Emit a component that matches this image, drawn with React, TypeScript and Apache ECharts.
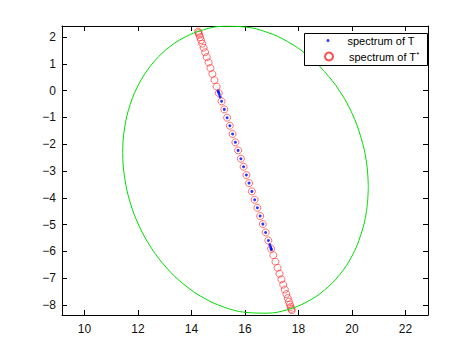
import { useEffect, useRef } from 'react';
import * as echarts from 'echarts';

const xTicks = [10, 12, 14, 16, 18, 20, 22];
const yTicks = [-8, -7, -6, -5, -4, -3, -2, -1, 0, 1, 2];
const xRange = [9.16, 22.84];
const yRange = [-8.37, 2.41];

// spectrum of T (blue dots)
const tX = [14.997, 15.014, 15.038, 15.072, 15.125, 15.226, 15.331, 15.432, 15.536, 15.641, 15.742, 15.846, 15.947, 16.051, 16.152, 16.257, 16.361, 16.462, 16.566, 16.667, 16.772, 16.873, 16.927, 16.957, 16.977, 16.987];
const tY = [-0.02, -0.07, -0.14, -0.24, -0.40, -0.70, -1.01, -1.31, -1.62, -1.93, -2.23, -2.54, -2.84, -3.15, -3.45, -3.76, -4.07, -4.37, -4.68, -4.98, -5.29, -5.59, -5.75, -5.84, -5.90, -5.93];

// spectrum of T* (red circles)
const sX = [14.250, 14.267, 14.290, 14.321, 14.358, 14.402, 14.452, 14.509, 14.570, 14.637, 14.708, 14.782, 14.859, 14.940, 15.021, 15.125, 15.226, 15.331, 15.432, 15.536, 15.641, 15.742, 15.846, 15.947, 16.051, 16.152, 16.257, 16.361, 16.462, 16.566, 16.667, 16.772, 16.873, 16.977, 17.058, 17.139, 17.216, 17.290, 17.361, 17.428, 17.489, 17.546, 17.597, 17.640, 17.678, 17.708, 17.731, 17.748];
const sY = [2.20, 2.15, 2.08, 1.99, 1.88, 1.75, 1.60, 1.43, 1.25, 1.05, 0.84, 0.62, 0.39, 0.15, -0.09, -0.40, -0.70, -1.01, -1.31, -1.62, -1.93, -2.23, -2.54, -2.84, -3.15, -3.45, -3.76, -4.07, -4.37, -4.68, -4.98, -5.29, -5.59, -5.90, -6.14, -6.38, -6.61, -6.83, -7.04, -7.24, -7.42, -7.59, -7.74, -7.87, -7.98, -8.07, -8.14, -8.19];

// green boundary curve
const eX = [20.61, 20.54, 20.33, 20.00, 19.54, 18.97, 18.315, 17.59, 16.817, 16.02, 15.223, 14.45, 13.725, 13.07, 12.504, 12.045, 11.707, 11.50, 11.43, 11.50, 11.707, 12.045, 12.504, 13.07, 13.725, 14.45, 15.223, 16.02, 16.817, 17.59, 18.315, 18.97, 19.54, 20.00, 20.33, 20.54, 20.61];
const eY = [-3.594, -4.508, -5.375, -6.168, -6.864, -7.44, -7.88, -8.171, -8.302, -8.271, -8.079, -7.73, -7.236, -6.612, -5.877, -5.053, -4.165, -3.24, -2.306, -1.392, -0.525, 0.268, 0.964, 1.54, 1.98, 2.271, 2.402, 2.371, 2.179, 1.83, 1.336, 0.712, -0.023, -0.847, -1.735, -2.66, -3.594];

const FONT = '"Liberation Sans", Arial, Helvetica, sans-serif';
const minus = (v: number) => String(v).replace('-', '\u2212');

export default function App() {
  const ref = useRef<HTMLDivElement>(null);
  useEffect(() => {
    if (!ref.current) return;
    const chart = echarts.init(ref.current, null, { renderer: 'svg' });
    const axisCommon = {
      axisLine: { show: true, onZero: false, lineStyle: { color: '#000', width: 1 } },
      splitLine: { show: false },
    };
    const xBase = (pos: 'bottom' | 'top', labels: boolean) => ({
      type: 'value',
      position: pos,
      min: xRange[0],
      max: xRange[1],
      ...axisCommon,
      axisTick: { show: true, inside: true, length: 5, lineStyle: { color: '#000' }, customValues: xTicks },
      axisLabel: {
        show: labels,
        customValues: xTicks,
        formatter: minus,
        color: '#111',
        fontSize: 12,
        fontFamily: FONT,
        margin: 8,
      },
    });
    const yBase = (pos: 'left' | 'right', labels: boolean) => ({
      type: 'value',
      position: pos,
      min: yRange[0],
      max: yRange[1],
      ...axisCommon,
      axisTick: { show: true, inside: true, length: 5, lineStyle: { color: '#000' }, customValues: yTicks },
      axisLabel: {
        show: labels,
        customValues: yTicks,
        formatter: minus,
        color: '#111',
        fontSize: 12,
        fontFamily: FONT,
        margin: 6,
      },
    });
    chart.setOption({
      animation: false,
      backgroundColor: '#fff',
      grid: { left: 62, right: 46, top: 26, bottom: 40 },
      xAxis: [xBase('bottom', true), xBase('top', false)],
      yAxis: [yBase('left', true), yBase('right', false)],
      legend: [
        {
          data: [{ name: 'spectrum of T', icon: 'circle' }],
          left: 326.5,
          top: 35,
          padding: 0,
          itemWidth: 3,
          itemHeight: 3,
          selectedMode: false,
          z: 6,
          textStyle: { fontSize: 11, fontFamily: FONT, color: '#000', padding: [0, 0, 0, 13] },
        },
        {
          data: [{ name: 'spectrum of T*', icon: 'circle' }],
          left: 324,
          top: 50,
          padding: 0,
          itemWidth: 8,
          itemHeight: 8,
          selectedMode: false,
          z: 6,
          formatter: () => 'spectrum of T{sup|*}',
          textStyle: {
            fontSize: 11,
            fontFamily: FONT,
            color: '#000',
            padding: [0, 0, 0, 11],
            rich: { sup: { fontSize: 8, fontFamily: FONT, color: '#000', verticalAlign: 'top', padding: [0, 0, 5, 0] } },
          },
        },
      ],
      graphic: [
        {
          type: 'rect',
          z: 5,
          shape: { x: 304.5, y: 33.5, width: 123, height: 32 },
          style: { fill: '#fff', stroke: '#000', lineWidth: 1 },
        },
      ],
      series: [
        {
          name: 'spectrum of T',
          type: 'scatter',
          data: tX.map((x, i) => [x, tY[i]]),
          symbol: 'circle',
          symbolSize: 3,
          itemStyle: { color: '#0000ff' },
          z: 3,
        },
        {
          name: 'spectrum of T*',
          type: 'scatter',
          data: sX.map((x, i) => [x, sY[i]]),
          symbol: 'circle',
          symbolSize: 7,
          itemStyle: { color: 'rgba(255,255,255,0)', borderColor: '#ff2020', borderWidth: 0.8 },
          z: 2,
        },
        {
          name: 'boundary',
          type: 'line',
          data: eX.map((x, i) => [x, eY[i]]),
          showSymbol: false,
          symbol: 'none',
          smooth: 0.4,
          lineStyle: { color: '#00dd00', width: 1 },
          z: 4,
        },
      ],
    });
    return () => chart.dispose();
  }, []);
  return <div ref={ref} style={{ position: 'fixed', left: 0, top: 0, width: 474, height: 355 }} />;
}
